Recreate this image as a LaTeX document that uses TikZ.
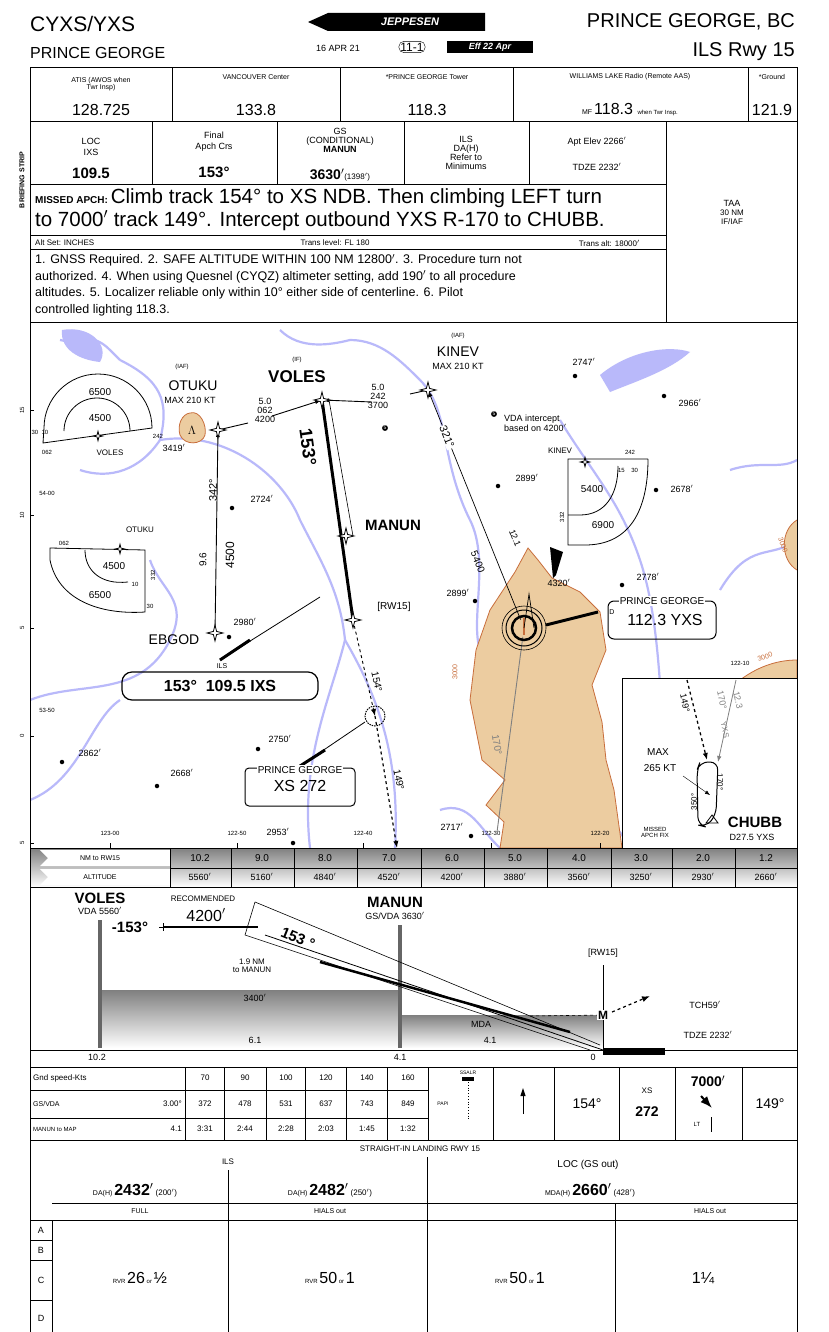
\documentclass[tikz,border=0pt]{standalone}
\usepackage{fontspec}
\setmainfont{Liberation Sans}
\usetikzlibrary{arrows.meta,shapes.geometric,calc}
\definecolor{water}{RGB}{185,185,250}
\definecolor{terrain}{RGB}{236,204,160}
\definecolor{terline}{RGB}{200,110,60}
\definecolor{shade}{RGB}{205,205,205}
\newcommand{\fs}[1]{\fontsize{#1}{#1}\selectfont}
\tikzset{
 t/.style={inner sep=0pt,font=\fs{7}},
 grid/.style={line width=1pt},
 thin/.style={line width=0.6pt},
 river/.style={water,line width=2.2pt,line join=round},
 spot/.style={circle,fill=black,inner sep=0pt,minimum size=4.5pt},
 fixstar/.pic={\draw[fill=white,line width=0.8pt] (0,-8)--(1.6,-1.6)--(8,0)--(1.6,1.6)--(0,8)--(-1.6,1.6)--(-8,0)--(-1.6,-1.6)--cycle;},
 trk/.style={line width=0.9pt,-{Latex[length=7pt,width=4pt]}},
}
\begin{document}
\begin{tikzpicture}[x=1pt,y=-1pt]
\useasboundingbox (0,0) rectangle (828,1332);
\fill[white] (0,0) rectangle (828,1332);
% ---------- header
\node[anchor=west,inner sep=0,font=\fs{21}] (hid) at (30,24) {CYXS/YXS};
\node[anchor=west,inner sep=0,font=\fs{16}] (hcity) at (30,53) {PRINCE GEORGE};
\fill (308,22) -- (328,13) -- (485,13) -- (485,31) -- (328,31) -- cycle;
\node[inner sep=0,font=\fs{11}\bfseries\itshape,text=white] (logo) at (410,22) {JEPPESEN};
\node[t,font=\fs{9}] (hdate) at (338,48) {16 APR 21};
\node[draw,rounded corners=5pt,inner sep=1.5pt,font=\fs{12}] (hpage) at (412,47) {11-1};
\node[fill=black,text=white,inner sep=2pt,font=\fs{9}\bfseries\itshape,minimum width=86pt] (heff) at (490,47) {Eff 22 Apr};
\node[anchor=east,inner sep=0,font=\fs{20}] (hplace) at (795,22) {PRINCE GEORGE, BC};
\node[anchor=east,inner sep=0,font=\fs{20}] (hproc) at (795,52) {ILS Rwy 15};
% ---------- briefing frame
\draw[grid] (30,68) rectangle (797,322);
\draw[grid] (30,122) -- (797,122);
\foreach \x in {172,340,513,748} \draw[thin] (\x,68) -- (\x,122);
\draw[grid] (666,122) -- (666,322);
\foreach \x in {152,277,404,529} \draw[thin] (\x,122) -- (\x,185);
\draw[grid] (30,185) -- (666,185);
\draw[thin] (30,235) -- (666,235);
\draw[grid] (30,250) -- (666,250);
\node[t,rotate=90,font=\fs{7}\bfseries] (brief) at (22,180) {BRIEFING STRIP};
\node[t,align=center] (c1) at (101,84) {ATIS (AWOS when\\Twr Insp)};
\node[inner sep=0,font=\fs{16}] (c1f) at (101,110) {128.725};
\node[t] (c2) at (256,77) {VANCOUVER Center};
\node[inner sep=0,font=\fs{16}] (c2f) at (256,110) {133.8};
\node[t] (c3) at (427,77) {*PRINCE GEORGE Tower};
\node[inner sep=0,font=\fs{16}] (c3f) at (427,110) {118.3};
\node[t] (c4) at (630,77) {WILLIAMS LAKE Radio (Remote AAS)};
\node[inner sep=0,font=\fs{16}] (c4f) at (630,110) {\fs{7}MF \fs{16}118.3 \fs{6}when Twr Insp.};
\node[t] (c5) at (772,77) {*Ground};
\node[inner sep=0,font=\fs{16}] (c5f) at (772,110) {121.9};
\node[t,align=center,font=\fs{9}] (r1) at (91,147) {LOC\\[2pt]IXS};
\node[inner sep=0,font=\fs{15}\bfseries] (r1f) at (91,173) {109.5};
\node[t,align=center,font=\fs{9}] (r2) at (214,142) {Final\\[2pt]Apch Crs};
\node[inner sep=0,font=\fs{15}\bfseries] (r2f) at (214,172) {153°};
\node[t,align=center,font=\fs{9}] (r3) at (340,140) {GS\\(CONDITIONAL)\\\bfseries MANUN};
\node[inner sep=0,font=\fs{14}\bfseries] (r3f) at (340,175) {3630$'$\fs{8}\mdseries(1398$'$)};
\node[t,align=center,font=\fs{9}] (r4) at (466,153) {ILS\\DA(H)\\Refer to\\Minimums};
\node[t,font=\fs{9}] (r5) at (597,142) {Apt Elev  2266$'$};
\node[t,font=\fs{9}] (r5b) at (597,167) {TDZE  2232$'$};
\node[t,align=center,font=\fs{9}] (taa) at (732,212) {TAA\\\fs{8}30 NM\\\fs{8}IF/IAF};
\node[anchor=north west,inner sep=0,align=left,font=\fontsize{20.5}{23}\selectfont] (miss) at (35,188) {{\fs{10}\bfseries MISSED APCH: }Climb track 154° to XS NDB. Then climbing LEFT turn\\to 7000$'$ track 149°. Intercept outbound YXS R-170 to CHUBB.};
\node[t,anchor=west,font=\fs{8}] (alt) at (35,243) {Alt Set: INCHES};
\node[t,font=\fs{8}] (trl) at (335,243) {Trans level: FL 180};
\node[t,anchor=east,font=\fs{8}] (tra) at (640,243) {Trans alt: 18000$'$};
\node[anchor=north west,inner sep=0,font=\fontsize{12.5}{16.5}\selectfont,align=left] (notes) at (35,254) {1. GNSS Required. 2. SAFE ALTITUDE WITHIN 100 NM 12800$'$. 3. Procedure turn not\\authorized. 4. When using Quesnel (CYQZ) altimeter setting, add 190$'$ to all procedure\\altitudes. 5. Localizer reliable only within 10° either side of centerline. 6. Pilot\\controlled lighting 118.3.};
% ---------- plan view
\begin{scope}
\clip (30,322) rectangle (797,848);
\draw[river] (60,340) .. controls (80,345) and (90,330) .. (110,350) -- (120,360);
\fill[water] (62,330) .. controls (90,325) and (110,345) .. (100,362) .. controls (80,360) and (60,350) .. (62,330) -- cycle;
\draw[river] (120,360) .. controls (160,380) and (170,400) .. (160,440) .. controls (140,470) and (110,480) .. (80,470);
\draw[river] (160,440) .. controls (220,430) and (280,470) .. (300,520) .. controls (320,560) and (340,590) .. (345,640);
\draw[river] (280,330) .. controls (300,350) and (330,345) .. (350,340) .. controls (380,340) and (400,360) .. (420,380);
\draw[river] (345,640) .. controls (330,700) and (300,760) .. (310,848);
\draw[river] (345,640) .. controls (380,700) and (400,760) .. (395,848);
\draw[river] (420,380) .. controls (450,410) and (440,460) .. (470,520) .. controls (490,560) and (470,620) .. (480,650);
\draw[river] (30,700) .. controls (80,680) and (140,700) .. (170,640) .. controls (190,600) and (160,590) .. (150,560);
\draw[river] (30,800) .. controls (80,780) and (90,720) .. (120,700);
\draw[river] (560,420) .. controls (590,470) and (620,500) .. (640,560) .. controls (660,620) and (660,700) .. (665,760);
\fill[water] (600,375) .. controls (630,350) and (670,345) .. (690,352) .. controls (670,370) and (640,380) .. (610,392) -- cycle;
\draw[river] (730,470) .. controls (760,460) and (780,470) .. (797,460);
\draw[river] (720,590) .. controls (750,540) and (770,560) .. (797,540);
\draw[river] (440,810) .. controls (470,800) and (480,830) .. (500,848);
\draw[river] (560,820) .. controls (580,800) and (610,810) .. (630,848);
% terrain
\draw[terline,fill=terrain,line width=0.8pt] (528,548) -- (538,560) -- (552,578) -- (580,592) -- (600,612) -- (606,650) -- (592,685) -- (602,722) -- (606,760) -- (614,790) -- (622,848) -- (500,848) -- (504,822) -- (486,805) -- (505,780) -- (482,760) -- (470,700) -- (476,650) -- (490,610) -- (515,572) -- cycle;
\draw[terline,fill=terrain,line width=0.8pt] (797,520) .. controls (780,530) and (780,560) .. (797,570);
\draw[terline,fill=terrain,line width=0.8pt] (740,680) .. controls (760,665) and (780,660) .. (797,660) -- (797,680) -- cycle;
\draw[terline,fill=terrain,line width=0.8pt] (190,413) .. controls (200,410) and (207,425) .. (205,435) .. controls (202,445) and (185,446) .. (180,435) .. controls (177,425) and (182,414) .. (190,413) -- cycle;
\end{scope}
\draw[grid] (30,322) rectangle (797,848);
\node[t,rotate=90,text=terline] (c3000a) at (455,672) {3000};
\node[t,rotate=-70,text=terline] (c3000b) at (783,545) {3000};
\node[t,text=terline,rotate=20] (c3000c) at (765,657) {3000};
% lat long
\foreach \y/\l in {410/15,515/10,628/5,736/0,843/5} {\draw (30,\y) -- (34,\y); \node[t,rotate=90,font=\fs{6}] at (22,\y) {\l};}
\node[t,font=\fs{6}] (lat1) at (47,493) {54-00};
\node[t,font=\fs{6}] (lat2) at (47,710) {53-50};
\foreach \x/\l in {110/123-00,237/122-50,363/122-40,491/122-30,600/122-20} {\node[t,font=\fs{6}] at (\x,833) {\l}; \draw (\x,843) -- (\x,848);}
\node[t,font=\fs{6}] (lon7) at (740,663) {122-10};
% coordinates
\coordinate (otuku) at (218,430);
\coordinate (voles) at (322,400);
\coordinate (kinev) at (428,390);
\coordinate (manun) at (346,536);
\coordinate (rw15) at (353,620);
\coordinate (ebgod) at (215,633);
\coordinate (vor) at (524,628);
\coordinate (ndb) at (375,716);
\coordinate (mapexit) at (397,848);
% tracks
\draw[line width=0.9pt] (otuku) -- (248,423);
\draw[trk] (272,416) -- (voles);
\draw[line width=0.9pt] (kinev) -- (410,394);
\draw[trk] (372,402) -- (voles);
\draw[trk] (ebgod) -- (otuku);
\draw[trk,line width=0.7pt] (vor) -- (kinev);
\draw[gray,line width=0.9pt] (vor) -- (497,832);
\draw[line width=3pt] (voles) -- (rw15);
\draw[line width=0.6pt] ($(voles)+(7,0)$) -- ($(manun)+(7,0)$);
\draw[line width=0.9pt,dashed,-{Latex[length=7pt]}] (rw15) -- (ndb);
\draw[line width=1.2pt,dashed,-{Latex[length=7pt]}] (ndb) -- (mapexit);
\draw[line width=1pt,dash pattern=on 1.5pt off 1pt] (ndb) circle (10);
\draw[line width=0.8pt] (220,660) -- (320,597);
\draw[line width=3pt] (220,660) -- (250,640);
\draw[line width=0.8pt] (300,766) -- (365,722);
\draw[line width=3pt] (300,766) -- (325,750);
% fixes
\foreach \f in {otuku,voles,kinev,manun,rw15,ebgod} \pic at (\f) {fixstar};
\node[t,font=\fs{6}] (iaf1) at (182,367) {(IAF)};
\node[t,font=\fs{14}] (lotuku) at (193,386) {OTUKU};
\node[t,font=\fs{9}] (motuku) at (190,400) {MAX 210 KT};
\node[t,font=\fs{13}\bfseries] (a1) at (192,430) {$\Lambda$};
\node[t,font=\fs{9}] (s3419) at (174,448) {3419$'$};
\node[t,font=\fs{6}] (if1) at (297,360) {(IF)};
\node[t,font=\fs{17}\bfseries] (lvoles) at (297,377) {VOLES};
\node[t,font=\fs{6}] (iaf2) at (458,336) {(IAF)};
\node[t,font=\fs{14}] (lkinev) at (458,352) {KINEV};
\node[t,font=\fs{9}] (mkinev) at (458,366) {MAX 210 KT};
\node[t,font=\fs{15}\bfseries] (lmanun) at (393,525) {MANUN};
\node[t,font=\fs{10}] (lrw) at (394,607) {[RW15]};
\node[t,font=\fs{14}] (lebgod) at (174,640) {EBGOD};
\node[t,font=\fs{9},align=center] (seg1) at (265,410) {5.0\\062\\4200};
\node[t,font=\fs{9},align=center] (seg2) at (378,396) {5.0\\242\\3700};
\node[circle,fill=black,text=white,inner sep=0.5pt,font=\fs{5}] (n5a) at (385,428) {5};
\node[t,font=\fs{18}\bfseries,rotate=-82] (crs) at (308,447) {153°};
\node[t,font=\fs{11},rotate=90] (c342) at (213,490) {342°};
\node[t,font=\fs{10},rotate=90] (d96) at (203,560) {9.6};
\node[t,font=\fs{12},rotate=90] (a4500) at (230,555) {4500};
\node[t,font=\fs{11},rotate=-68,fill=white,inner sep=1pt] (c321) at (447,437) {321°};
\node[t,font=\fs{9},rotate=-68] (d121) at (515,538) {12.1};
\node[t,font=\fs{10},rotate=-68] (a5400) at (478,562) {5400};
\node[t,font=\fs{10},rotate=-80,text=gray] (c170) at (497,745) {170°};
\node[t,font=\fs{10},rotate=-78] (c154) at (377,682) {154°};
\node[t,font=\fs{10},rotate=-78] (c149) at (399,780) {149°};
\node[circle,fill=black,text=white,inner sep=0.5pt,font=\fs{5}] (n5b) at (494,414) {5};
\node[t,font=\fs{9},align=left,anchor=west] (vda) at (504,423) {VDA intercept\\based on 4200$'$};
% spot heights
\foreach \n/\x/\y/\tx/\ty/\l in {sa/575/376/584/362/2747,sb/664/396/690/403/2966,sc/498/486/527/478/2899,sd/656/490/682/489/2678,se/475/601/458/593/2899,sf/622/585/648/577/2778,sg/232/508/262/499/2724,sh/258/749/280/739/2750,si/62/762/90/753/2862,sj/157/786/182/773/2668,sk/293/843/278/832/2953,sl/471/836/452/827/2717,sm/229/637/245/622/2980}
 {\node[spot] (\n) at (\x,\y) {}; \node[t,font=\fs{9}] at (\tx,\ty) {\l$'$};}
\node[t,font=\fs{9}] (s4320) at (559,583) {4320$'$};
\fill (550,547) -- (563,552) -- (556,575) -- (553,578) -- cycle;
% VOR
\draw[line width=1pt] (vor) circle (18);
\draw[line width=0.6pt] (vor) circle (22);
\draw[line width=2.5pt] (vor) circle (12);
\fill[terrain] (vor) circle (9);
\draw[terline,line width=2pt] (524,618) -- (524,635);
\draw[line width=0.7pt] (524,628) -- (529,594) -- (534,628);
\draw[line width=3pt] (546,625) -- (598,612);
% Frequency boxes
\node[draw,line width=1pt,rounded corners=6pt,minimum width=108pt,minimum height=38pt] (vorbox) at (662,620) {};
\node[t,font=\fs{10},fill=white,inner sep=1pt] (vorname) at (662,601) {PRINCE GEORGE};
\node[t,font=\fs{16}] (vorfreq) at (665,620) {112.3 YXS};
\node[t,font=\fs{7}] (vord) at (612,612) {D};
\node[draw,line width=1.2pt,rounded corners=10pt,minimum width=196pt,minimum height=28pt] (ilsbox) at (220,686) {};
\node[t,font=\fs{16}\bfseries] (ilsfreq) at (220,686) {153° \ 109.5 IXS};
\node[t,font=\fs{7},fill=white,inner sep=1pt] (ilslbl) at (222,666) {ILS};
\node[draw,line width=1pt,rounded corners=4pt,minimum width=110pt,minimum height=38pt] (ndbbox) at (300,787) {};
\node[t,font=\fs{10},fill=white,inner sep=1pt] (ndbname) at (300,770) {PRINCE GEORGE};
\node[t,font=\fs{16}] (ndbfreq) at (300,786) {XS 272};
% TAA sectors
\begin{scope}[line width=0.8pt]
 \draw (43,443) -- (152,428) arc (0:-180:54) -- cycle;
 \draw (130,431) arc (0:-180:33);
 \node[t,font=\fs{10}] at (100,392) {6500};
 \node[t,font=\fs{10}] at (100,418) {4500};
 \node[t,font=\fs{6}] at (40,432) {30 \ 10};
 \node[t,font=\fs{6}] at (158,436) {242};
 \node[t,font=\fs{6}] at (47,452) {062};
 \node[t,font=\fs{8}] at (110,453) {VOLES};
 \pic[scale=0.6] at (98,436) {fixstar};
 \draw (50,560) -- (50,548) -- (145,550) -- (145,612) .. controls (100,615) and (58,600) .. (50,560);
 \draw (85,550) .. controls (85,570) and (100,585) .. (128,582);
 \node[t,font=\fs{8}] at (140,530) {OTUKU};
 \pic[scale=0.6] at (120,549) {fixstar};
 \node[t,font=\fs{10}] at (114,566) {4500};
 \node[t,font=\fs{10}] at (100,595) {6500};
 \node[t,font=\fs{6}] at (64,543) {062};
 \node[t,font=\fs{6}] at (135,584) {10};
 \node[t,font=\fs{6}] at (150,606) {30};
 \node[t,font=\fs{6},rotate=90] at (153,575) {332};
 \draw (648,459) -- (568,459) -- (568,545) -- (585,545) .. controls (630,545) and (648,510) .. (648,459);
 \draw (568,515) -- (580,515) .. controls (605,515) and (618,495) .. (618,466);
 \node[t,font=\fs{8}] at (560,451) {KINEV};
 \pic[scale=0.6] at (585,462) {fixstar};
 \node[t,font=\fs{10}] at (592,489) {5400};
 \node[t,font=\fs{10}] at (603,525) {6900};
 \node[t,font=\fs{6}] at (628,470) {15 \ \ \ 30};
 \node[t,font=\fs{6}] at (630,452) {242};
 \node[t,font=\fs{6},rotate=90] at (562,517) {332};
\end{scope}
% CHUBB inset
\draw[grid,fill=white] (622,678) rectangle (797,848);
\coordinate (chubb) at (712,815);
\draw[line width=1.3pt,dashed,-{Latex[length=7pt]}] (687,680) -- (707,760);
\draw[gray,line width=0.8pt,-{Latex[length=6pt]}] (736,680) -- (718,762);
\node[t,font=\fs{9},rotate=-78,text=gray] at (722,700) {170°};
\node[t,font=\fs{9},rotate=-78,text=gray] at (738,700) {12.3};
\node[t,font=\fs{8},rotate=-78,text=gray] at (725,730) {YXS};
\node[t,font=\fs{9},rotate=-78] at (685,703) {149°};
\draw[line width=1pt,rounded corners=8pt] (700,762) -- (718,762) -- (716,815) -- (706,827) -- (698,825) -- (697,770) -- cycle;
\draw[line width=0.8pt] (chubb) -- ++(-6,8) -- ++(12,0) -- cycle;
\node[t,font=\fs{10}] at (658,752) {MAX};
\node[t,font=\fs{10}] at (660,768) {265 KT};
\draw[-{Latex[length=5pt]}] (683,776) -- (710,795);
\node[t,font=\fs{8},rotate=90] at (694,802) {350°};
\node[t,font=\fs{8},rotate=-90] at (720,782) {170°};
\node[t,font=\fs{15}\bfseries] (lchubb) at (755,822) {CHUBB};
\node[t,font=\fs{9}] at (752,837) {D27.5 YXS};
\node[t,font=\fs{6},align=center] at (655,832) {MISSED\\APCH FIX};
% ---------- NM table
\fill[shade] (30,848) rectangle (797,887);
\fill[white] (40,850) -- (170,850) -- (170,866) -- (40,866) -- (48,858) -- cycle;
\fill[white] (40,869) -- (170,869) -- (170,885) -- (40,885) -- (48,877) -- cycle;
\draw[grid] (30,848) rectangle (797,887);
\draw[thin] (170,868) -- (797,868);
\foreach \x in {170,231,294,357,421,484,547,611,672,735} \draw[thin] (\x,848) -- (\x,887);
\node[t] (nmlbl) at (100,858) {NM to RW15};
\node[t] (altlbl) at (100,877) {ALTITUDE};
\foreach \x/\a/\b in {200/10.2/5560,262/9.0/5160,325/8.0/4840,389/7.0/4520,452/6.0/4200,515/5.0/3880,579/4.0/3560,641/3.0/3250,703/2.0/2930,766/1.2/2660}
 {\node[t,font=\fs{10}] at (\x,858) {\a}; \node[t,font=\fs{9}] at (\x,877) {\b$'$};}
% ---------- profile
\draw[grid] (30,887) -- (30,1140) (797,887) -- (797,1140);
\fill[shade] (100,990) rectangle (400,1048);
\fill[shade] (400,1015) rectangle (603,1048);
\draw[line width=4pt,gray!80!black] (100,920) -- (100,1048);
\draw[line width=4pt,gray!80!black] (400,925) -- (400,1048);
\draw[thin] (603,965) -- (603,1048);
\draw[grid] (30,1050) -- (797,1050);
\fill (603,1048) rectangle (665,1055);
\node[t,font=\fs{15}\bfseries] (pvoles) at (100,898) {VOLES};
\node[t,font=\fs{9}] (pvda) at (100,911) {VDA 5560$'$};
\node[t,font=\fs{8}] (prec) at (203,899) {RECOMMENDED};
\node[t,font=\fs{16}] (p4200) at (206,915) {4200$'$};
\node[t,font=\fs{15}\bfseries] (p153) at (130,927) {-153°};
\coordinate (plevel) at (163,927);
\coordinate (pturn) at (258,927);
\draw[line width=1.5pt] (plevel) -- (pturn);
\draw[line width=1pt] (plevel) ++(-4,0) -- ++(8,0) ++(-4,-4) -- ++(0,8);
\draw[thin] (255,902) -- (600,1045) (245,935) -- (590,1050);
\draw[thin] (255,902) -- (245,935);
\draw[line width=2.5pt] (320,962) -- (570,1032);
\coordinate (pmap) at (603,1015);
\draw[line width=0.8pt] (265,935) -- (603,1050);
\node[t,font=\fs{15}\bfseries,rotate=-22] (p153b) at (298,938) {153 °};
\node[t,font=\fs{15}\bfseries] (pmanun) at (395,902) {MANUN};
\node[t,font=\fs{9}] (pgs) at (395,916) {GS/VDA 3630$'$};
\node[t,font=\fs{8},align=center] (p19) at (252,966) {1.9 NM\\to MANUN};
\node[t,font=\fs{9}] (p3400) at (255,998) {3400$'$};
\node[t,font=\fs{9}] (p61) at (255,1040) {6.1};
\node[t,font=\fs{9}] (pmda) at (481,1024) {MDA};
\node[t,font=\fs{9}] (p41) at (490,1040) {4.1};
\node[t,font=\fs{9}] (prw) at (603,953) {[RW15]};
\draw[thin,dashed] (530,1016) -- (pmap);
\node[t,font=\fs{12}\bfseries,fill=white,inner sep=1pt] (pm) at (pmap) {M};
\draw[line width=1.2pt,dashed,-{Latex[length=8pt]}] (612,1012) -- (650,996);
\node[t,font=\fs{9}] (ptch) at (705,1005) {TCH59$'$};
\node[t,font=\fs{9}] (ptdze) at (708,1035) {TDZE  2232$'$};
\node[t,font=\fs{9}] (pd1) at (97,1057) {10.2};
\node[t,font=\fs{9}] (pd2) at (400,1057) {4.1};
\node[t,font=\fs{9}] (pd3) at (593,1057) {0};
% ---------- speed table
\draw[grid] (30,1067) -- (797,1067) (30,1140) -- (797,1140);
\draw[thin] (30,1090) -- (428,1090) (30,1118) -- (428,1118);
\foreach \x in {185,224,266,305,346,387,428} \draw[thin] (\x,1067) -- (\x,1140);
\foreach \x in {493,554,619,675,742} \draw[thin] (\x,1067) -- (\x,1140);
\node[t,anchor=west,font=\fs{8}] (gs1) at (33,1078) {Gnd speed-Kts};
\node[t,anchor=west,font=\fs{7}] (gs2) at (33,1104) {GS/VDA};
\node[t,anchor=east,font=\fs{8}] (gs3) at (182,1104) {3.00°};
\node[t,anchor=west,font=\fs{6}] (gs4) at (33,1129) {MANUN to MAP};
\node[t,anchor=east,font=\fs{8}] (gs5) at (182,1129) {4.1};
\foreach \x/\a/\b/\c in {205/70/372/3:31,245/90/478/2:44,286/100/531/2:28,326/120/637/2:03,367/140/743/1:45,408/160/849/1:32}
 {\node[t,font=\fs{8}] at (\x,1078) {\a}; \node[t,font=\fs{8}] at (\x,1104) {\b}; \node[t,font=\fs{8}] at (\x,1129) {\c};}
\node[t,font=\fs{5}] (ssalr) at (468,1073) {SSALR};
\fill (462,1077) rectangle (474,1081);
\draw[thick,dotted] (468,1082) -- (468,1120);
\node[t,font=\fs{5}] (papi) at (443,1104) {PAPI};
\draw[-{Triangle[length=8pt,width=5pt]},line width=1pt] (523,1114) -- (523,1088);
\node[t,font=\fs{14}] (m154) at (587,1104) {154°};
\node[t,font=\fs{8},align=center] (mxs) at (647,1091) {XS};
\node[t,font=\fs{14}\bfseries] (m272) at (647,1112) {272};
\node[t,font=\fs{14}\bfseries] (m7000) at (708,1081) {7000$'$};
\draw[line width=2pt,-{Latex}] (701,1096) -- (712,1108);
\node[t,font=\fs{6}] (mlt) at (697,1124) {LT};
\draw[thin] (711,1117) -- (711,1132);
\node[t,font=\fs{14}] (m149) at (770,1104) {149°};
% ---------- minimums
\draw[grid] (30,1140) -- (30,1332) (797,1140) -- (797,1332);
\node[t,font=\fs{8}] (sil) at (420,1149) {STRAIGHT-IN LANDING RWY 15};
\node[t,font=\fs{8}] (ils) at (228,1162) {ILS};
\node[t,font=\fs{10}] (loc) at (588,1165) {LOC (GS out)};
\draw[thin] (228,1170) -- (228,1332);
\draw[thin] (427,1157) -- (427,1332);
\draw[thin] (615,1203) -- (615,1332);
\node[inner sep=0] (da1) at (135,1190) {\fs{7}DA(H) \fs{16}\bfseries 2432$'$\fs{8}\mdseries~(200$'$)};
\node[inner sep=0] (da2) at (330,1190) {\fs{7}DA(H) \fs{16}\bfseries 2482$'$\fs{8}\mdseries~(250$'$)};
\node[inner sep=0] (da3) at (590,1190) {\fs{7}MDA(H) \fs{16}\bfseries 2660$'$\fs{8}\mdseries~(428$'$)};
\draw[grid] (52,1203) -- (797,1203);
\draw[thin] (30,1220) -- (797,1220);
\node[t,font=\fs{7}] (full) at (140,1211) {FULL};
\node[t,font=\fs{7}] (hi1) at (330,1211) {HIALS out};
\node[t,font=\fs{7}] (hi2) at (710,1211) {HIALS out};
\draw[thin] (52,1220) -- (52,1332);
\foreach \y in {1240,1260,1300} \draw[thin] (30,\y) -- (52,\y);
\node[t,font=\fs{9}] (ca) at (41,1230) {A};
\node[t,font=\fs{9}] (cb) at (41,1250) {B};
\node[t,font=\fs{9}] (cc) at (41,1280) {C};
\node[t,font=\fs{9}] (cd) at (41,1318) {D};
\node[inner sep=0] (v1) at (140,1278) {\fs{6}RVR \fs{16}26\fs{6} or \fs{16}½};
\node[inner sep=0] (v2) at (330,1278) {\fs{6}RVR \fs{16}50\fs{6} or \fs{16}1};
\node[inner sep=0] (v3) at (520,1278) {\fs{6}RVR \fs{16}50\fs{6} or \fs{16}1};
\node[inner sep=0] (v4) at (703,1278) {\fs{16}1¼};
\end{tikzpicture}
\end{document}
